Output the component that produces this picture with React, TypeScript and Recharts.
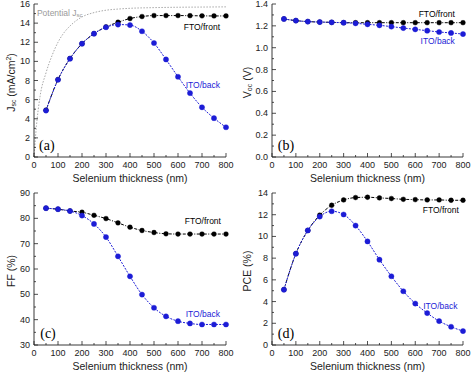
import React from 'react';
import { LineChart, Line, XAxis, YAxis, ReferenceDot } from 'recharts';

// ---------- data ----------
const thickness = [50, 100, 150, 200, 250, 300, 350, 400, 450, 500, 550, 600, 650, 700, 750, 800];

const jscFTO = [4.9, 8.1, 10.3, 11.85, 12.9, 13.6, 14.09, 14.48, 14.69, 14.79, 14.79, 14.79, 14.78, 14.76, 14.75, 14.75];
const jscITO = [4.86, 8.08, 10.28, 11.85, 12.9, 13.57, 13.85, 13.8, 13.15, 11.92, 10.2, 8.39, 6.68, 5.2, 4.06, 3.11];
const potentialThickness = [0, 10, 25, 50, 75, 100, 125, 150, 200, 250, 300, 350, 400, 500, 600, 700, 800];
const potentialJsc = [0, 3.2, 6.3, 8.8, 10.6, 12.0, 13.0, 13.7, 14.65, 15.1, 15.35, 15.47, 15.55, 15.62, 15.66, 15.68, 15.7];

const vocFTO = [1.263, 1.248, 1.239, 1.235, 1.232, 1.229, 1.229, 1.229, 1.229, 1.229, 1.229, 1.229, 1.229, 1.229, 1.229, 1.229];
const vocITO = [1.263, 1.248, 1.239, 1.235, 1.232, 1.229, 1.223, 1.214, 1.205, 1.193, 1.18, 1.168, 1.156, 1.144, 1.135, 1.125];

const ffFTO = [84.0, 83.6, 82.9, 82.4, 81.2, 79.9, 78.2, 76.5, 75.2, 74.4, 73.9, 73.8, 73.8, 73.8, 73.8, 73.8];
const ffITO = [84.0, 83.6, 82.9, 81.1, 77.8, 72.6, 65.0, 57.1, 49.9, 44.7, 41.3, 39.4, 38.5, 38.1, 38.1, 38.1];

const pceFTO = [5.1, 8.41, 10.55, 11.96, 12.87, 13.36, 13.58, 13.61, 13.55, 13.49, 13.42, 13.39, 13.36, 13.36, 13.33, 13.33];
const pceITO = [5.1, 8.41, 10.55, 11.83, 12.32, 12.02, 11.0, 9.54, 7.86, 6.33, 4.95, 3.82, 2.94, 2.2, 1.68, 1.28];

// ---------- ticks ----------
const xTicks = [0, 50, 100, 150, 200, 250, 300, 350, 400, 450, 500, 550, 600, 650, 700, 750, 800];
const xLabels = [0, 100, 200, 300, 400, 500, 600, 700, 800];
const jscTicks = [0, 1, 2, 3, 4, 5, 6, 7, 8, 9, 10, 11, 12, 13, 14, 15, 16];
const jscLabels = [0, 2, 4, 6, 8, 10, 12, 14, 16];
const vocTicks = [0, 0.1, 0.2, 0.3, 0.4, 0.5, 0.6, 0.7, 0.8, 0.9, 1.0, 1.1, 1.2, 1.3, 1.4];
const vocLabels = [0, 0.2, 0.4, 0.6, 0.8, 1.0, 1.2, 1.4];
const ffTicks = [30, 35, 40, 45, 50, 55, 60, 65, 70, 75, 80, 85, 90];
const ffLabels = [30, 40, 50, 60, 70, 80, 90];
const pceTicks = [0, 1, 2, 3, 4, 5, 6, 7, 8, 9, 10, 11, 12, 13, 14];
const pceLabels = [0, 2, 4, 6, 8, 10, 12, 14];

// ---------- style ----------
const SANS = 'Liberation Sans, Arial, Helvetica, sans-serif';
const SERIF = 'Liberation Serif, Times New Roman, serif';
const AXIS = '#222';
const TXT = '#222';
const BLUE = '#1c1cd6';
const BLACK = '#000';
const GRAY = '#a8a8a8';
const TICK_FS = 9;
const TITLE_FS = 10.5;

const pts = (xs: number[], ys: number[]) => xs.map((x, i) => ({ x, y: ys[i] }));
const isIn = (v: number, list: number[]) => list.some((l) => Math.abs(l - v) < 1e-6);

type Series = { key: string; data: { x: number; y: number }[]; color: string; dash: string; dot: boolean; r?: number };
type Anno = { x: number; y: number; content: React.ReactNode; color: string; anchor: 'start' | 'end'; serif?: boolean; size?: number };

function XTick(props: any) {
  const { x, y, payload, top } = props;
  const v = payload.value;
  const major = isIn(v, xLabels);
  const len = major ? 4 : 2;
  return (
    <g>
      <line x1={x} y1={y} x2={x} y2={top ? y + len : y - len} stroke={AXIS} strokeWidth={0.8} />
      {!top && major && (
        <text x={x} y={y + 8} textAnchor="middle" dominantBaseline="central" fontSize={TICK_FS} fontFamily={SANS} fill={TXT}>
          {v}
        </text>
      )}
    </g>
  );
}

function YTick(props: any) {
  const { x, y, payload, right, labels, fmt } = props;
  const v = payload.value;
  const major = isIn(v, labels);
  const len = major ? 4 : 2;
  return (
    <g>
      <line x1={x} y1={y} x2={right ? x - len : x + len} y2={y} stroke={AXIS} strokeWidth={0.8} />
      {!right && major && (
        <text x={x - 4} y={y} textAnchor="end" dominantBaseline="central" fontSize={TICK_FS} fontFamily={SANS} fill={TXT}>
          {fmt(v)}
        </text>
      )}
    </g>
  );
}

type PanelProps = {
  left: number;
  top: number;
  marginTop: number;
  xAxisH: number;
  yAxisW: number;
  titleX: number;
  series: Series[];
  yDomain: [number, number];
  yTicks: number[];
  yLabels: number[];
  yFmt: (v: number) => string;
  yTitle: React.ReactNode;
  annos: Anno[];
};

function Panel(p: PanelProps) {
  const W = 237;
  const H = 187;
  return (
    <div style={{ position: 'absolute', left: p.left, top: p.top, width: W, height: H }}>
      <LineChart width={W} height={H} margin={{ top: p.marginTop, right: 11, bottom: 0, left: 0 }} style={{ overflow: 'visible' }}>
        <XAxis
          xAxisId="b"
          type="number"
          dataKey="x"
          domain={[0, 800]}
          ticks={xTicks}
          interval={0}
          tickLine={false}
          tickSize={0}
          tickMargin={0}
          height={p.xAxisH}
          axisLine={{ stroke: AXIS, strokeWidth: 0.9 }}
          tick={(tp: any) => <XTick {...tp} />}
          label={(lp: any) => {
            const vb = lp.viewBox || {};
            return (
              <text
                x={vb.x + vb.width / 2}
                y={vb.y + 21}
                textAnchor="middle"
                dominantBaseline="central"
                fontSize={TITLE_FS}
                fontFamily={SANS}
                fill={TXT}
              >
                Selenium thickness (nm)
              </text>
            );
          }}
        />
        <XAxis
          xAxisId="t"
          orientation="top"
          type="number"
          dataKey="x"
          domain={[0, 800]}
          ticks={xTicks}
          interval={0}
          tickLine={false}
          tickSize={0}
          tickMargin={0}
          height={0}
          axisLine={{ stroke: AXIS, strokeWidth: 0.9 }}
          tick={(tp: any) => <XTick {...tp} top />}
        />
        <YAxis
          yAxisId="l"
          type="number"
          domain={p.yDomain}
          ticks={p.yTicks}
          interval={0}
          tickLine={false}
          tickSize={0}
          tickMargin={0}
          width={p.yAxisW}
          axisLine={{ stroke: AXIS, strokeWidth: 0.9 }}
          tick={(tp: any) => <YTick {...tp} labels={p.yLabels} fmt={p.yFmt} />}
          label={(lp: any) => {
            const vb = lp.viewBox || {};
            const cx = vb.x + p.titleX;
            const cy = vb.y + vb.height / 2 + 2;
            return (
              <text
                x={cx}
                y={cy}
                transform={`rotate(-90, ${cx}, ${cy})`}
                textAnchor="middle"
                dominantBaseline="central"
                fontSize={TITLE_FS}
                fontFamily={SANS}
                fill={TXT}
              >
                {p.yTitle}
              </text>
            );
          }}
        />
        <YAxis
          yAxisId="r"
          orientation="right"
          type="number"
          domain={p.yDomain}
          ticks={p.yTicks}
          interval={0}
          tickLine={false}
          tickSize={0}
          tickMargin={0}
          width={0}
          axisLine={{ stroke: AXIS, strokeWidth: 0.9 }}
          tick={(tp: any) => <YTick {...tp} right labels={p.yLabels} fmt={p.yFmt} />}
        />
        {p.series.map((s) => (
          <Line
            key={s.key}
            xAxisId="b"
            yAxisId="l"
            data={s.data}
            dataKey="y"
            type="monotone"
            stroke={s.color}
            strokeWidth={1}
            strokeDasharray={s.dash}
            dot={s.dot ? { r: s.r ?? 2.6, fill: s.color, stroke: s.color, strokeWidth: 0.4, strokeDasharray: '0' } : false}
            activeDot={false}
            isAnimationActive={false}
          />
        ))}
        {p.annos.map((a, i) => (
          <ReferenceDot
            key={i}
            xAxisId="b"
            yAxisId="l"
            x={a.x}
            y={a.y}
            r={0}
            fill="none"
            stroke="none"
            label={(lp: any) => {
              const vb = lp.viewBox || {};
              return (
                <text
                  x={vb.x + (vb.width || 0) / 2}
                  y={vb.y + (vb.height || 0) / 2}
                  textAnchor={a.anchor}
                  dominantBaseline="central"
                  fontSize={a.size ?? 8.5}
                  fontFamily={a.serif ? SERIF : SANS}
                  fill={a.color}
                >
                  {a.content}
                </text>
              );
            }}
          />
        ))}
      </LineChart>
    </div>
  );
}

const fmtInt = (v: number) => String(Math.round(v));
const fmt1 = (v: number) => v.toFixed(1);

const DASH_FTO = '3 1.5 1 1.5';
const DASH_ITO = '2 1.3';

export default function App() {
  return (
    <div style={{ position: 'absolute', left: 0, top: 0, width: 474, height: 374, background: '#fff', overflow: 'hidden' }}>
      <Panel
        left={0}
        top={0}
        marginTop={4}
        xAxisH={30}
        yAxisW={34}
        titleX={11}
        yDomain={[0, 16]}
        yTicks={jscTicks}
        yLabels={jscLabels}
        yFmt={fmtInt}
        yTitle={
          <>
            J<tspan dy={2} fontSize={7}>sc</tspan>
            <tspan dy={-2}> (mA/cm</tspan>
            <tspan dy={-3} fontSize={7}>2</tspan>
            <tspan dy={3}>)</tspan>
          </>
        }
        series={[
          { key: 'pot', data: pts(potentialThickness, potentialJsc), color: GRAY, dash: '1.5 1.5', dot: false },
          { key: 'fto', data: pts(thickness, jscFTO), color: BLACK, dash: DASH_FTO, dot: true, r: 2.4 },
          { key: 'ito', data: pts(thickness, jscITO), color: BLUE, dash: DASH_ITO, dot: true },
        ]}
        annos={[
          {
            x: 12,
            y: 15.1,
            anchor: 'start',
            color: '#9a9a9a',
            content: (
              <>
                Potential J<tspan dy={2} fontSize={6}>sc</tspan>
              </>
            ),
          },
          { x: 775, y: 13.64, anchor: 'end', color: BLACK, content: 'FTO/front' },
          { x: 775, y: 7.58, anchor: 'end', color: BLUE, content: 'ITO/back' },
          { x: 21, y: 1.17, anchor: 'start', color: BLACK, content: '(a)', serif: true, size: 14 },
        ]}
      />
      <Panel
        left={237}
        top={0}
        marginTop={4}
        xAxisH={30}
        yAxisW={35}
        titleX={10}
        yDomain={[0, 1.4]}
        yTicks={vocTicks}
        yLabels={vocLabels}
        yFmt={fmt1}
        yTitle={
          <>
            V<tspan dy={2} fontSize={7}>oc</tspan>
            <tspan dy={-2}> (V)</tspan>
          </>
        }
        series={[
          { key: 'fto', data: pts(thickness, vocFTO), color: BLACK, dash: DASH_FTO, dot: true, r: 2.4 },
          { key: 'ito', data: pts(thickness, vocITO), color: BLUE, dash: DASH_ITO, dot: true },
        ]}
        annos={[
          { x: 766, y: 1.308, anchor: 'end', color: BLACK, content: 'FTO/front' },
          { x: 766, y: 1.064, anchor: 'end', color: BLUE, content: 'ITO/back' },
          { x: 24, y: 0.103, anchor: 'start', color: BLACK, content: '(b)', serif: true, size: 14 },
        ]}
      />
      <Panel
        left={0}
        top={187}
        marginTop={6}
        xAxisH={29}
        yAxisW={34}
        titleX={11}
        yDomain={[30, 90]}
        yTicks={ffTicks}
        yLabels={ffLabels}
        yFmt={fmtInt}
        yTitle="FF (%)"
        series={[
          { key: 'fto', data: pts(thickness, ffFTO), color: BLACK, dash: DASH_FTO, dot: true, r: 2.4 },
          { key: 'ito', data: pts(thickness, ffITO), color: BLUE, dash: DASH_ITO, dot: true },
        ]}
        annos={[
          { x: 779, y: 79.1, anchor: 'end', color: BLACK, content: 'FTO/front' },
          { x: 775, y: 42.1, anchor: 'end', color: BLUE, content: 'ITO/back' },
          { x: 26, y: 34.5, anchor: 'start', color: BLACK, content: '(c)', serif: true, size: 14 },
        ]}
      />
      <Panel
        left={237}
        top={187}
        marginTop={6}
        xAxisH={29}
        yAxisW={35}
        titleX={10}
        yDomain={[0, 14]}
        yTicks={pceTicks}
        yLabels={pceLabels}
        yFmt={fmtInt}
        yTitle="PCE (%)"
        series={[
          { key: 'fto', data: pts(thickness, pceFTO), color: BLACK, dash: DASH_FTO, dot: true, r: 2.4 },
          { key: 'ito', data: pts(thickness, pceITO), color: BLUE, dash: DASH_ITO, dot: true },
        ]}
        annos={[
          { x: 783, y: 12.44, anchor: 'end', color: BLACK, content: 'FTO/front' },
          { x: 777, y: 3.6, anchor: 'end', color: BLUE, content: 'ITO/back' },
          { x: 24, y: 1.06, anchor: 'start', color: BLACK, content: '(d)', serif: true, size: 14 },
        ]}
      />
    </div>
  );
}
